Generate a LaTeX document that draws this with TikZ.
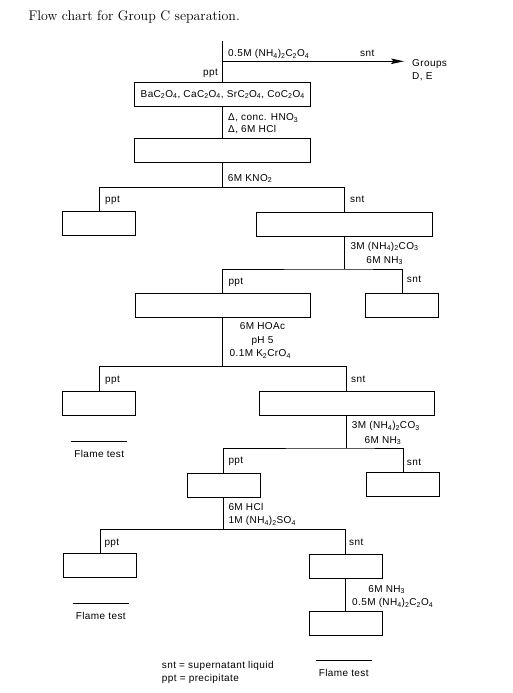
\documentclass[tikz,border=0pt]{standalone}
\usepackage{fontspec}
\newfontfamily\labfont{Liberation Sans}[LetterSpace=4]
\usetikzlibrary{arrows.meta}
\newcommand\sbs[1]{\textsubscript{#1}}
\begin{document}
\begin{tikzpicture}[x=1pt,y=-1pt,
  box/.style={draw, fill=white, line width=0.8pt, inner sep=0pt, minimum height=24pt},
  wbox/.style={box, minimum width=176pt},
  sbox/.style={box, minimum width=73.4pt},
  lab/.style={font=\labfont\fontsize{10}{12}\selectfont, inner sep=0pt},
  lw/.style={lab, anchor=base west},
  lc/.style={lab, anchor=base},
  conn/.style={line width=0.9pt},
  rule/.style={line width=0.8pt}]
\useasboundingbox (0,0) rectangle (512,693);
% title
\node[anchor=base west, inner sep=0pt, font=\fontsize{13.9}{16}\selectfont] (title) at (28.3,20.7) {Flow chart for Group C separation.};
% boxes
\node[wbox, lab] (B1) at (222.7,94.3) {BaC\sbs2O\sbs4, CaC\sbs2O\sbs4, SrC\sbs2O\sbs4, CoC\sbs2O\sbs4};
\node[wbox] (B2) at (222.7,150.7) {};
\node[sbox] (L1) at (99,223.7) {};
\node[wbox, minimum width=175.6pt] (R1) at (344.5,224.3) {};
\node[wbox, minimum width=175pt] (M2) at (222.8,305.7) {};
\node[sbox] (R2) at (402,305.7) {};
\node[sbox] (L3) at (99,403.3) {};
\node[wbox, minimum width=175.3pt] (R3) at (346.7,403.3) {};
\node[sbox] (M4) at (223.7,485) {};
\node[sbox] (R4) at (403,484.3) {};
\node[sbox] (L5) at (100,565.3) {};
\node[sbox, minimum width=73pt] (R5) at (345.8,566.2) {};
\node[sbox, minimum width=73pt] (R6) at (345.8,623.3) {};
% split points
\coordinate (top) at (222.7,41);
\coordinate (s0) at (222.7,61.3);
\coordinate (arrowend) at (404,61.3);
\coordinate (s1) at (222.7,187.3);
\coordinate (s2) at (344.5,269);
\coordinate (s3) at (222.8,366.7);
\coordinate (s4) at (346.7,448);
\coordinate (s5) at (223.7,529.3);
% connectors
\draw[conn] (top) -- (B1.north);
\draw[conn,-{Stealth[length=13pt,width=5.5pt,inset=2.5pt]}] (s0) -- (arrowend);
\draw[conn] (B1.south) -- (B2.north);
\draw[conn] (B2.south) -- (s1);
\draw[conn] (L1.north) |- (s1) -| (R1.north);
\draw[conn] (R1.south) -- (s2);
\draw[conn] (M2.north) |- (s2) -| (R2.north);
\draw[conn] (M2.south) -- (s3);
\draw[conn] (L3.north) |- (s3) -| (R3.north);
\draw[conn] (R3.south) -- (s4);
\draw[conn] (M4.north) |- (s4) -| (R4.north);
\draw[conn] (M4.south) -- (s5);
\draw[conn] (L5.north) |- (s5) -| (R5.north);
\draw[conn] (R5.south) -- (R6.north);
% labels
\node[lw] (t0) at (228,56.6) {0.5M (NH\sbs4)\sbs2C\sbs2O\sbs4};
\node[lw] (t0s) at (360,56.6) {snt};
\node[lw] (grp1) at (412,66.3) {Groups};
\node[lw] (grp2) at (412,79.6) {D, E};
\node[lab, anchor=base east] (t0p) at (218,75.3) {ppt};
\node[lw] (t1a) at (228,120.6) {Δ, conc. HNO\sbs3};
\node[lw] (t1b) at (228,132.3) {Δ, 6M HCl};
\node[lw] (t2) at (227.7,181) {6M KNO\sbs2};
\node[lw] (t2p) at (105,202) {ppt};
\node[lw] (t2s) at (350,202) {snt};
\node[lc] (t3a) at (384.5,249.3) {3M (NH\sbs4)\sbs2CO\sbs3};
\node[lc] (t3b) at (384.7,263) {6M NH\sbs3};
\node[lw] (t3p) at (228.3,284) {ppt};
\node[lw] (t3s) at (406.7,282.5) {snt};
\node[lc] (t4a) at (262.5,329.6) {6M HOAc};
\node[lc] (t4b) at (262.5,343.3) {pH 5};
\node[lc] (t4c) at (260.3,356.9) {0.1M K\sbs2CrO\sbs4};
\node[lw] (t5p) at (105,382) {ppt};
\node[lw] (t5s) at (351,382) {snt};
\node[lc] (t6a) at (385.8,428.6) {3M (NH\sbs4)\sbs2CO\sbs3};
\node[lc] (t6b) at (383,443) {6M NH\sbs3};
\node[lw] (t6p) at (228.3,463.5) {ppt};
\node[lw] (t6s) at (406.7,465.3) {snt};
\node[lw] (t7a) at (228.3,510.3) {6M HCl};
\node[lw] (t7b) at (228.3,523.6) {1M (NH\sbs4)\sbs2SO\sbs4};
\node[lw] (t8p) at (104.3,545) {ppt};
\node[lw] (t8s) at (349,545) {snt};
\node[lc] (t9a) at (386.7,592) {6M NH\sbs3};
\node[lc] (t9b) at (392.7,605.6) {0.5M (NH\sbs4)\sbs2C\sbs2O\sbs4};
% flame tests
\draw[rule] (71,441.3) -- (127.3,441.3);
\node[lc] (f1) at (99.2,457) {Flame test};
\draw[rule] (72.7,603.7) -- (129,603.7);
\node[lc] (f2) at (100.8,619.6) {Flame test};
\draw[rule] (315.7,660.3) -- (371.7,660.3);
\node[lc] (f3) at (343.7,676.9) {Flame test};
% legend
\node[lw] (leg1) at (161.7,668.9) {snt = supernatant liquid};
\node[lw] (leg2) at (161.7,681.6) {ppt = precipitate};
\end{tikzpicture}
\end{document}
